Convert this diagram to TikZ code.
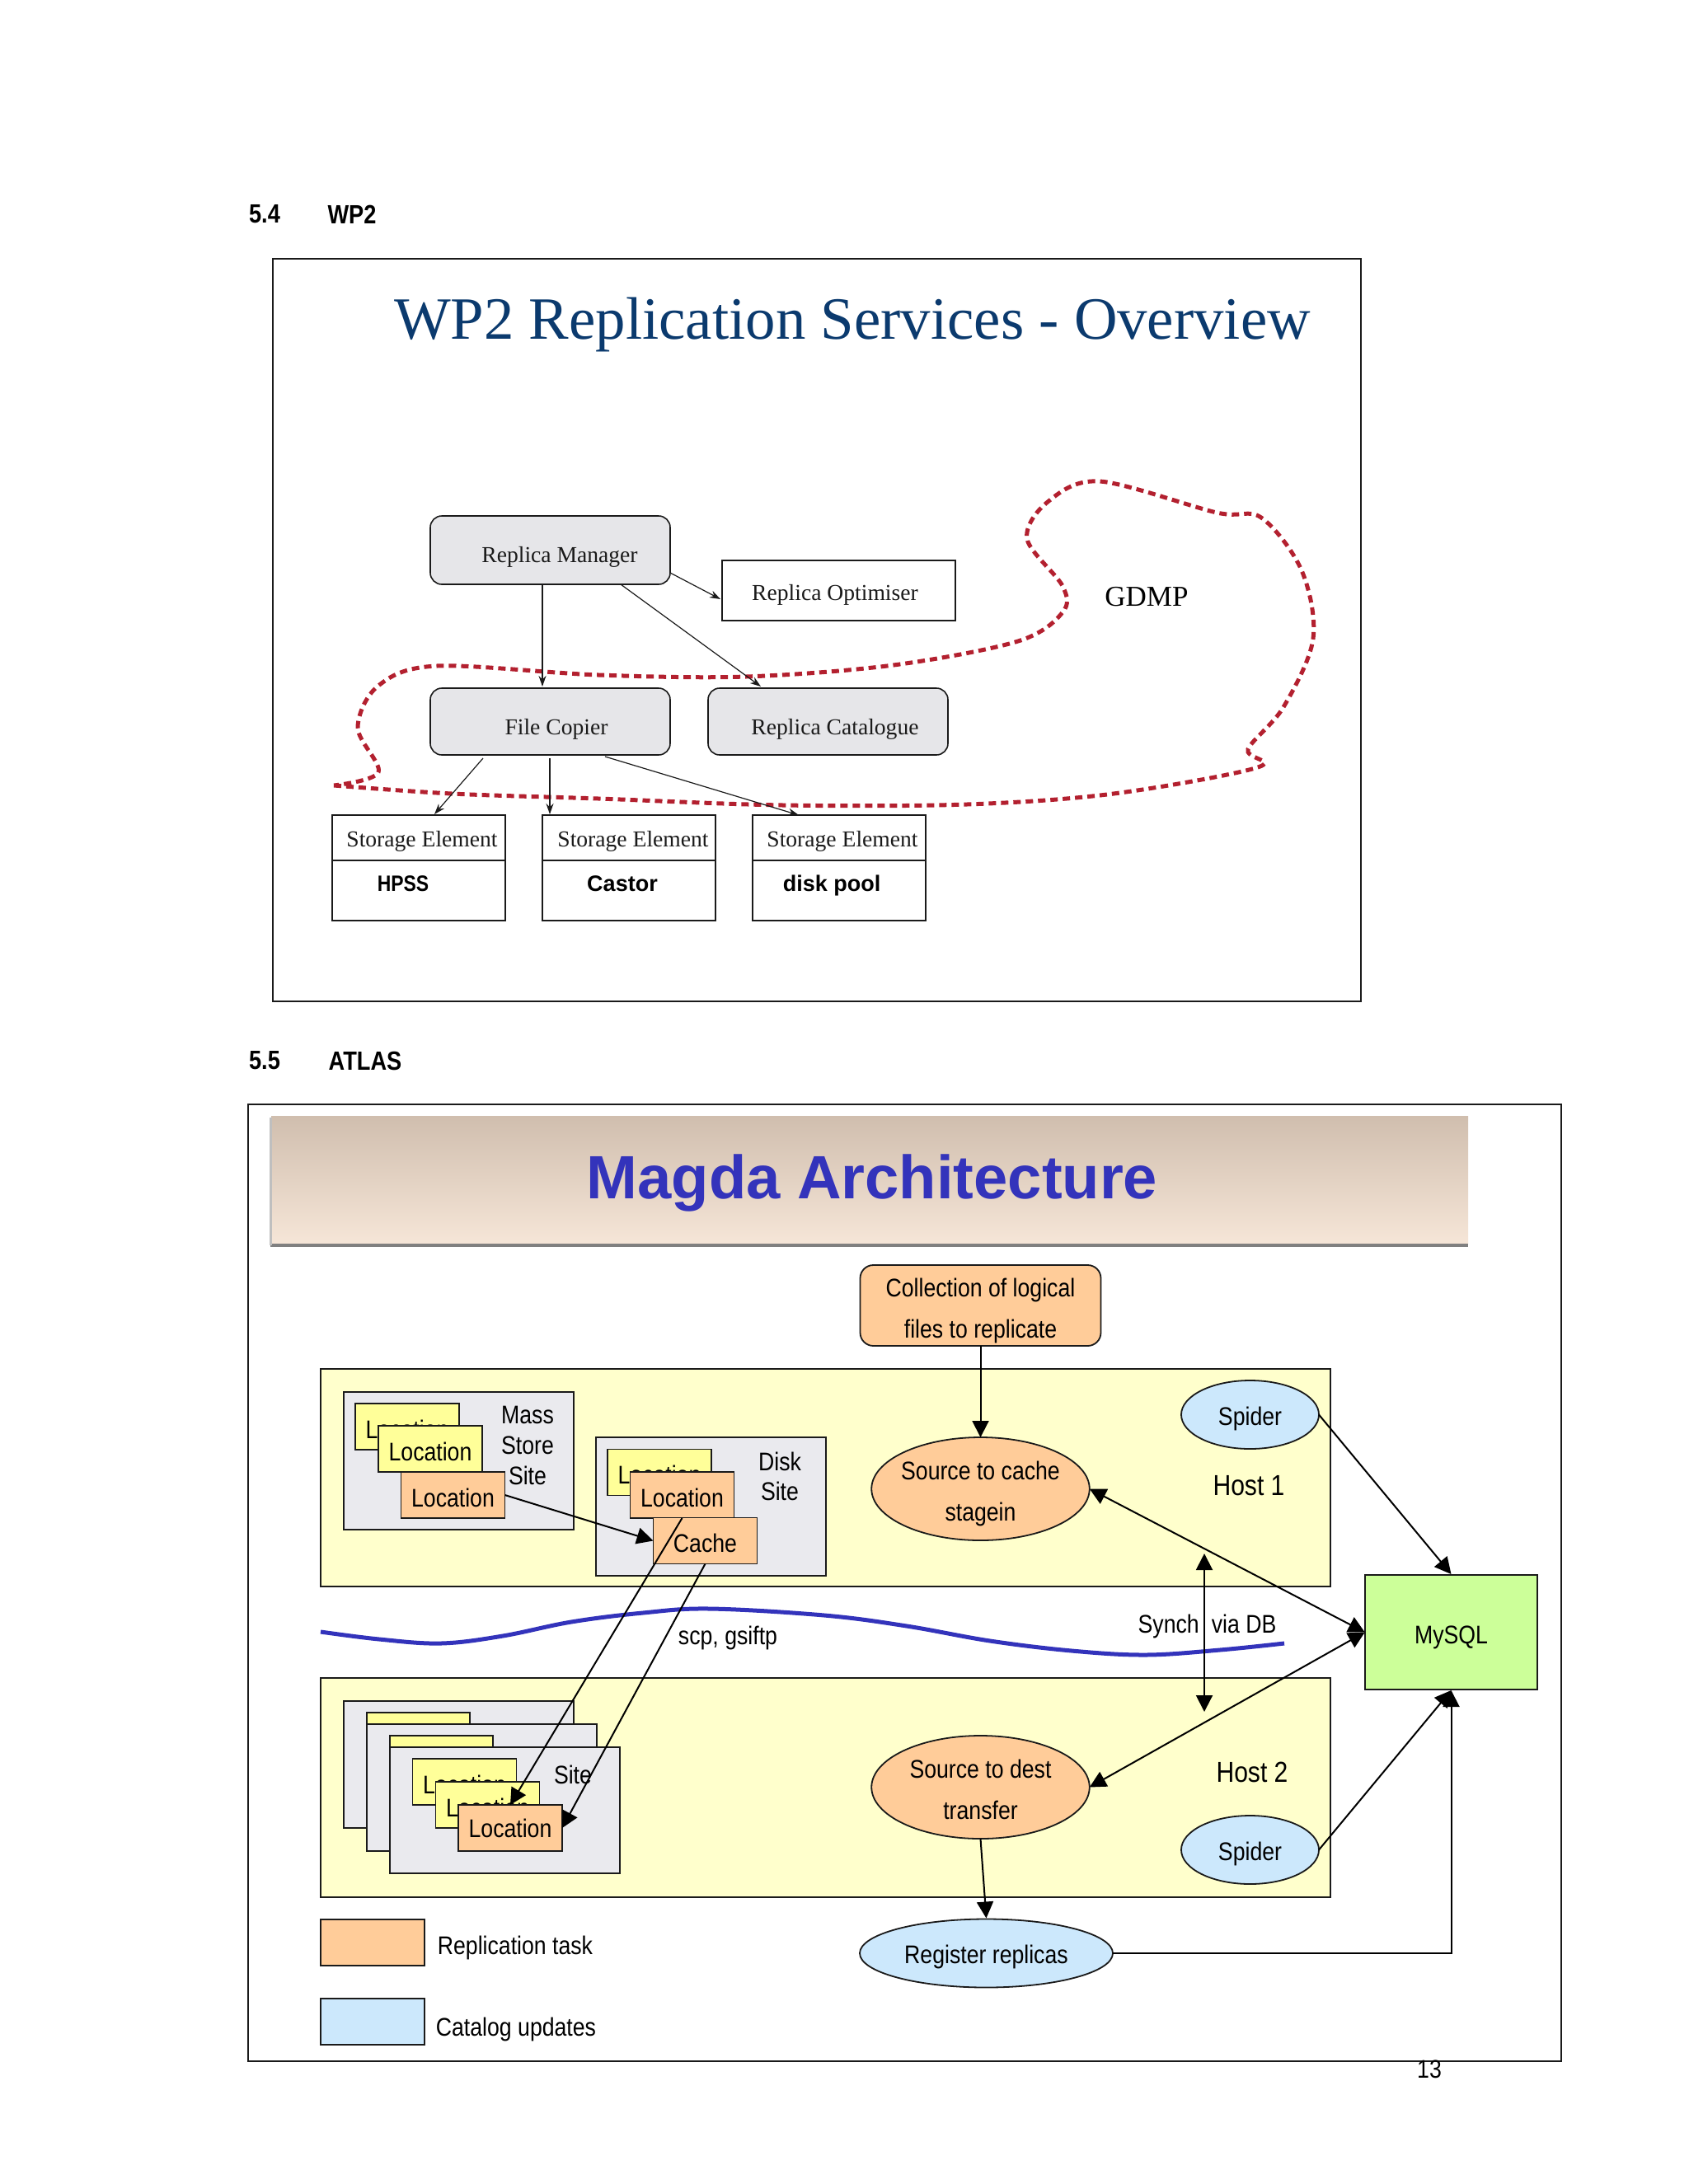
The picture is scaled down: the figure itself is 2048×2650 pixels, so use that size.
\documentclass[tikz,border=0pt]{standalone}
\usepackage{fontspec}
\setmainfont{Liberation Sans}
\newfontfamily\wpserif{Liberation Serif}
\newfontfamily\nsans[FakeStretch=0.86]{Liberation Sans}
\newfontfamily\nbold[FakeStretch=0.85,BoldFont={Liberation Sans Bold}]{Liberation Sans Bold}
\newfontfamily\sbold{Liberation Sans Bold}
\usetikzlibrary{arrows.meta,shapes.geometric}
\definecolor{navy}{HTML}{0B3A6E}
\definecolor{gdmpred}{HTML}{B3202F}
\definecolor{wpgray}{HTML}{E6E6E9}
\definecolor{hostyellow}{HTML}{FFFFCC}
\definecolor{locyellow}{HTML}{FFFF99}
\definecolor{taskorange}{HTML}{FFCC99}
\definecolor{catblue}{HTML}{CCE8FC}
\definecolor{sitegray}{HTML}{EAEAEE}
\definecolor{sqlgreen}{HTML}{CCFF99}
\definecolor{magdablue}{HTML}{3333BB}
\definecolor{inkdark}{HTML}{1A1A1A}
\definecolor{tanbandtop}{HTML}{D0BEAE}
\definecolor{tanbandbot}{HTML}{F6E6D8}
\tikzset{
  x=1pt,y=-1pt,
  sz/.style={inner sep=0pt,outer sep=0pt,anchor=center},
  box/.style n args={2}{sz,rectangle,minimum width=#1 pt,minimum height=#2 pt},
  wptxt/.style={sz,font=\wpserif\fontsize{27.6}{28}\selectfont,text=inkdark},
  wpbox/.style={draw=inkdark,line width=1.6pt},
  wparr/.style={draw=inkdark,line width=1.2pt,-{Stealth[length=13pt,width=9pt]}},
  mtxt/.style={sz,font=\nsans\fontsize{31}{50}\selectfont,text=black,align=center},
  mline/.style={draw=inkdark,line width=1.8pt},
  marr/.style={draw=black,line width=2pt,-{Triangle[length=20pt,width=20pt]}},
  mdarr/.style={draw=black,line width=2pt,{Triangle[length=20pt,width=20pt]}-{Triangle[length=20pt,width=20pt]}},
  host/.style={mline,fill=hostyellow},
  site/.style={mline,fill=sitegray},
  locY/.style={mline,fill=locyellow,box={126}{56},mtxt,text height=28pt,text depth=0pt},
  locO/.style={mline,fill=taskorange,box={126}{56},mtxt,text height=28pt,text depth=0pt},
  hosttxt/.style={sz,font=\nsans\fontsize{35}{35}\selectfont,text=black},
  ell/.style n args={2}{sz,ellipse,mline,minimum width=#1 pt,minimum height=#2 pt},
  two/.style={mtxt,yshift=-5pt},
}
\begin{document}
\begin{tikzpicture}
\useasboundingbox (0,0) rectangle (2048,2650);
\fill[white] (0,0) rectangle (2048,2650);
% headings
\node[sz,font=\nbold\fontsize{32}{32}\selectfont] (h54) at (321,260) {5.4};
\node[sz,font=\nbold\fontsize{32}{32}\selectfont] (h54b) at (427,260) {WP2};
\node[sz,font=\nbold\fontsize{32}{32}\selectfont] (h55) at (321,1287) {5.5};
\node[sz,font=\nbold\fontsize{32}{32}\selectfont] (h55b) at (443,1287) {ATLAS};
% WP2 frame
\node[box={1320}{901},draw=inkdark,line width=2pt] (wpframe) at (991,764.5) {};
\node[sz,font=\wpserif\fontsize{72.8}{73}\selectfont,text=navy] (wptitle) at (1034,394) {WP2 Replication Services - Overview};
% WP2 boxes
\node[box={291}{83},wpbox,fill=wpgray,rounded corners=14pt] (rm) at (667.5,667.5) {};
\node[wptxt] (rmt) at (679,676) {Replica Manager};
\node[box={283}{73},wpbox] (ro) at (1017.5,716.5) {};
\node[wptxt] (rot) at (1013,722) {Replica Optimiser};
\node[box={291}{81},wpbox,fill=wpgray,rounded corners=14pt] (fc) at (667.5,875.5) {};
\node[wptxt] (fct) at (675,885) {File Copier};
\node[box={291}{81},wpbox,fill=wpgray,rounded corners=14pt] (rc) at (1004.5,875.5) {};
\node[wptxt] (rct) at (1013,885) {Replica Catalogue};
\node[box={210}{128},wpbox] (se1) at (508,1053) {};
\node[box={210}{128},wpbox] (se2) at (763,1053) {};
\node[box={210}{128},wpbox] (se3) at (1018,1053) {};
\draw[wpbox] (403,1044) -- (613,1044) (658,1044) -- (868,1044) (913,1044) -- (1123,1044);
\node[wptxt] (se1t) at (512,1021) {Storage Element};
\node[wptxt] (se2t) at (768,1021) {Storage Element};
\node[wptxt] (se3t) at (1022,1021) {Storage Element};
\node[sz,font=\nbold\fontsize{27}{27}\selectfont] (hpss) at (489,1072) {HPSS};
\node[sz,font=\sbold\fontsize{27}{27}\selectfont] (castor) at (755,1072) {Castor};
\node[sz,font=\sbold\fontsize{27}{27}\selectfont] (disk) at (1009,1075) {disk pool};
\node[sz,font=\wpserif\fontsize{35}{35}\selectfont] (gdmp) at (1391,724) {GDMP};
% GDMP curve
\draw[gdmpred,line width=5pt,dash pattern=on 9pt off 6pt] plot[smooth,tension=0.55] coordinates {
(405,953)(548,963)(726,969)(950,977)(1173,976)(1351,963)(1526,931)(1514,909)(1557,858)(1593,775)(1579,692)(1530,628)(1476,622)(1334,584)(1271,609)(1246,654)(1289,711)(1289,743)(1235,778)(1084,807)(905,821)(726,819)(530,808)(459,832)(434,883)(459,937)(405,953)};
% WP2 connectors
\draw[wparr] ([shift={(0,27.5)}]rm.east) -- ([shift={(-2,10.5)}]ro.west);
\draw[wparr] ([shift={(-9.5,1)}]rm.south) -- ([shift={(-9.5,-2)}]fc.north);
\draw[wparr] ([shift={(85.5,0)}]rm.south) -- ([shift={(-81.5,-2)}]rc.north);
\draw[wparr] ([shift={(-81.5,4)}]fc.south) -- ([shift={(19,-1)}]se1.north);
\draw[wparr] ([shift={(-0.5,4)}]fc.south) -- ([shift={(-96,-1)}]se2.north);
\draw[wparr] ([shift={(66.5,2)}]fc.south) -- ([shift={(-49,0)}]se3.north);
% ATLAS frame
\node[box={1593}{1161},draw=inkdark,line width=2pt] (atframe) at (1097.5,1920.5) {};
\node[box={1452}{156},top color=tanbandtop,bottom color=tanbandbot,font=\sbold\fontsize{74.2}{75}\selectfont,text=magdablue,text height=58pt,text depth=14pt] (banner) at (1055,1432) {\hspace*{6pt}Magda Architecture};
\draw[gray,line width=4pt] (328,1511) -- (1781,1511);
\draw[lightgray,line width=3pt] (328,1356) -- (328,1511);
% hosts
\node[box={1225}{264},host] (host1) at (1001.5,1793) {};
\node[box={1225}{266},host] (host2) at (1001.5,2169) {};
\node[hosttxt] (h1t) at (1515,1803) {Host 1};
\node[hosttxt] (h2t) at (1519,2150) {Host 2};
% mass store site
\node[box={279}{167},site] (mass) at (556.5,1772.5) {};
\node[locY] (la1) at (494,1731) {Location};
\node[locY] (la2) at (522,1758) {Location};
\node[locO] (la3) at (549.5,1814) {Location};
\node[mtxt,font=\nsans\fontsize{31}{37}\selectfont] (masst) at (640,1754) {Mass\\Store\\Site};
% disk site
\node[box={279}{168},site] (dsk) at (862.5,1828) {};
\node[locY] (lb1) at (800,1786.5) {Location};
\node[locO] (lb2) at (827.5,1814) {Location};
\node[locO] (cache) at (855.5,1869.5) {Cache};
\node[mtxt,font=\nsans\fontsize{31}{36}\selectfont] (dskt) at (946,1791) {Disk\\Site};
% lower stacked sites
\node[box={279}{154},site] (s1) at (556.5,2141) {};
\fill[locyellow] (445,2078) rectangle (570,2092);
\draw[mline] (445,2092) -- (445,2078) -- (570,2078) -- (570,2092);
\node[box={279}{154},site] (s2) at (584.5,2169) {};
\fill[locyellow] (473,2106) rectangle (598,2120);
\draw[mline] (473,2120) -- (473,2106) -- (598,2106) -- (598,2120);
\node[box={279}{153},site] (s3) at (612.5,2196.5) {};
\node[mtxt] (s3t) at (695,2153) {Site};
\node[locY] (lc1) at (563.5,2162) {Location};
\node[locY] (lc2) at (591.5,2190) {Location};
\node[locO,text height=23pt] (lc3) at (619,2218) {Location};
% wave
\draw[magdablue,line width=5pt] plot[smooth,tension=0.6] coordinates {(389,1980)(460,1989)(535,1994)(610,1985)(693,1968)(780,1957)(861,1952)(1000,1960)(1100,1973)(1201,1991)(1300,2003)(1390,2008)(1480,2002)(1558,1994)};
\node[mtxt] (scp) at (883,1987) {scp, gsiftp};
\node[mtxt] (synch) at (1464.5,1973) {Synch\hspace{15pt}via DB};
% right hand nodes
\node[box={292}{98},mline,fill=taskorange,rounded corners=16pt,label={[two,yshift=-1pt]center:{Collection of logical\\files to replicate}}] (coll) at (1189.5,1584) {};
\node[ell={264.5}{125},fill=taskorange,label={[two,yshift=-1pt]center:{Source to cache\\stagein}}] (srcc) at (1189.5,1806.5) {};
\node[ell={264.5}{125},fill=taskorange,label={[two,yshift=2pt]center:{Source to dest\\transfer}}] (srcd) at (1189.5,2168.5) {};
\node[ell={167}{83},fill=catblue,mtxt,text height=26pt,text depth=0pt] (sp1) at (1516.5,1716.5) {Spider};
\node[ell={167}{83},fill=catblue,mtxt,text height=26pt,text depth=0pt] (sp2) at (1516.5,2244.5) {Spider};
\node[ell={307}{83},fill=catblue,mtxt,text height=24pt,text depth=0pt] (reg) at (1196.5,2370) {Register replicas};
\node[box={209.5}{139},mline,fill=sqlgreen,mtxt,text height=28pt,text depth=0pt] (mysql) at (1760.5,1980.5) {MySQL};
% legend
\node[box={126}{56},mline,fill=taskorange] (lg1) at (452,2357) {};
\node[mtxt] (lg1t) at (625,2363) {Replication task};
\node[box={126}{56},mline,fill=catblue] (lg2) at (452,2453) {};
\node[mtxt] (lg2t) at (626,2462) {Catalog updates};
% connectors
\coordinate (syt) at (1461,1885);
\coordinate (syb) at (1461,2077);
\draw[marr] (la3.east) -- (cache.west);
\draw[marr] (lb2.south) -- (lc3.north);
\draw[marr] (cache.south) -- (lc3.east);
\draw[marr] (coll.south) -- (srcc.north);
\draw[marr] (sp1.east) -- ([shift={(0,-1)}]mysql.north);
\draw[marr] (sp2.east) -- ([shift={(0,1)}]mysql.south);
\draw[mdarr] (srcc.east) -- (mysql.west);
\draw[mdarr] (srcd.east) -- (mysql.west);
\draw[mdarr] (syt) -- (syb);
\draw[marr] (srcd.south) -- ([shift={(0,-1)}]reg.north);
\draw[marr] (reg.east) -| ([shift={(0,1)}]mysql.south);
\node[mtxt] (pnum) at (1734,2511) {13};
\end{tikzpicture}
\end{document}
